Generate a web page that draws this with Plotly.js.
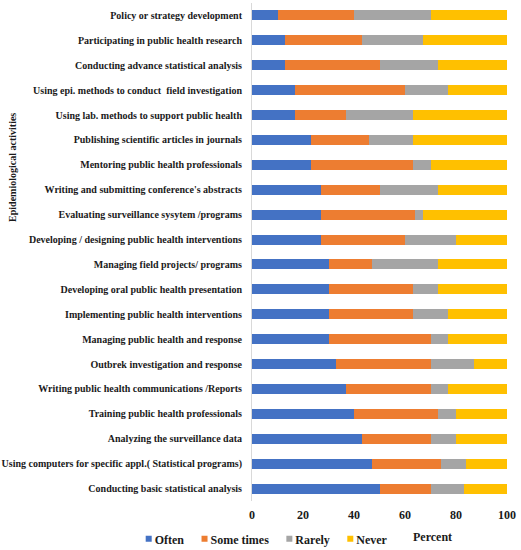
<!DOCTYPE html>
<html>
<head>
<meta charset="utf-8">
<script src="https://cdn.plot.ly/plotly-3.0.1.min.js"></script>
<style>html,body{margin:0;padding:0;background:#fff;}#chart{width:521px;height:550px;}</style>
</head>
<body>
<div id="chart"></div>
<script>
const activities = [
  "Policy or strategy development",
  "Participating in public health research",
  "Conducting advance statistical analysis",
  "Using epi. methods to conduct  field investigation",
  "Using lab. methods to support public health",
  "Publishing scientific articles in journals",
  "Mentoring public health professionals",
  "Writing and submitting conference's abstracts",
  "Evaluating surveillance sysytem /programs",
  "Developing / designing public health interventions",
  "Managing field projects/ programs",
  "Developing oral public health presentation",
  "Implementing public health interventions",
  "Managing public health and response",
  "Outbrek investigation and response",
  "Writing public health communications /Reports",
  "Training public health professionals",
  "Analyzing the surveillance data",
  "Using computers for specific appl.( Statistical programs)",
  "Conducting basic statistical analysis"
];
const often     = [10, 13, 13, 17, 17, 23, 23, 27, 27, 27, 30, 30, 30, 30, 33, 37, 40, 43, 47, 50];
const sometimes = [30, 30, 37, 43, 20, 23, 40, 23, 37, 33, 17, 33, 33, 40, 37, 33, 33, 27, 27, 20];
const rarely    = [30, 24, 23, 17, 26, 17,  7, 23,  3, 20, 26, 10, 14,  7, 17,  7,  7, 10, 10, 13];
const never     = [30, 33, 27, 23, 37, 37, 30, 27, 33, 20, 27, 27, 23, 23, 13, 23, 20, 20, 16, 17];
const seriesNames = ["Often", "Some times", "Rarely", "Never"];
const colors = ["#4472C4", "#ED7D31", "#A5A5A5", "#FFC000"];
const xTicks = [0, 20, 40, 60, 80, 100];

const serif = "Liberation Serif";
const data = [often, sometimes, rarely, never].map((vals, i) => ({
  type: "bar",
  orientation: "h",
  name: seriesNames[i],
  y: activities,
  x: vals,
  marker: {color: colors[i], line: {width: 0}},
  hoverinfo: "x+y+name"
}));

const layout = {
  width: 521, height: 550,
  margin: {l: 252, r: 14, t: 3, b: 49, autoexpand: false},
  paper_bgcolor: "#ffffff", plot_bgcolor: "#ffffff",
  font: {family: serif},
  barmode: "stack",
  bargap: 0.6,
  showlegend: true,
  legend: {
    orientation: "h", x: -0.43, xanchor: "left", y: -0.077, yanchor: "middle",
    font: {family: serif, size: 12, color: "#1a1a1a", weight: "bold"},
    bgcolor: "rgba(0,0,0,0)", traceorder: "normal"
  },
  xaxis: {
    range: [0, 100], tickvals: xTicks, ticktext: xTicks.map(String),
    showgrid: false, zeroline: false, showline: false, ticks: "",
    ticklabelstandoff: 5,
    tickfont: {family: serif, size: 12, color: "#1a1a1a", weight: "bold"},
    fixedrange: true
  },
  yaxis: {
    type: "category", autorange: "reversed",
    showgrid: false, zeroline: false, showline: true, linecolor: "#D9D9D9", linewidth: 1,
    ticks: "", ticklabelstandoff: 7,
    tickfont: {family: serif, size: 10, color: "#1a1a1a", weight: "bold"},
    fixedrange: true
  },
  annotations: [
    {text: "Percent", xref: "paper", yref: "paper", x: 0.706, y: -0.072,
     showarrow: false, xanchor: "center", yanchor: "middle",
     font: {family: serif, size: 12, color: "#1a1a1a", weight: "bold"}},
    {text: "Epidemiological activities", xref: "paper", yref: "paper", x: -0.937, y: 0.669,
     textangle: -90, showarrow: false, xanchor: "center", yanchor: "middle",
     font: {family: serif, size: 10, color: "#1a1a1a", weight: "bold"}}
  ]
};

Plotly.newPlot("chart", data, layout, {displayModeBar: false, staticPlot: true}).then(gd => {
  // compact legend items like the reference (small square, short gap)
  const items = Array.from(gd.querySelectorAll(".legend .traces"));
  const parseT = g => {
    const m = /translate\(([^,]+),\s*([^)]+)\)/.exec(g.getAttribute("transform") || "");
    return m ? [parseFloat(m[1]), parseFloat(m[2])] : [0, 0];
  };
  let x = 0;
  items.forEach(g => {
    const t = g.querySelector("text.legendtext");
    const tw = t.getComputedTextLength();
    const y = parseT(g)[1];
    g.setAttribute("transform", "translate(" + x + "," + y + ")");
    g.querySelectorAll(".legendpoints path").forEach(p => p.setAttribute("transform", "translate(34,0) scale(0.5)"));
    x += tw + 26.5;
  });
  if (items.length) {
    const p = items[0].querySelector(".legendpoints path").getBoundingClientRect();
    const tr = items[0].querySelector("text.legendtext").getBoundingClientRect();
    const dx = 145.7 - p.left;
    const dy = 539.5 - (tr.top + tr.height / 2);
    items.forEach(g => {
      const [gx, gy] = parseT(g);
      g.setAttribute("transform", "translate(" + (gx + dx) + "," + (gy + dy) + ")");
    });
  }
});
</script>
</body>
</html>
